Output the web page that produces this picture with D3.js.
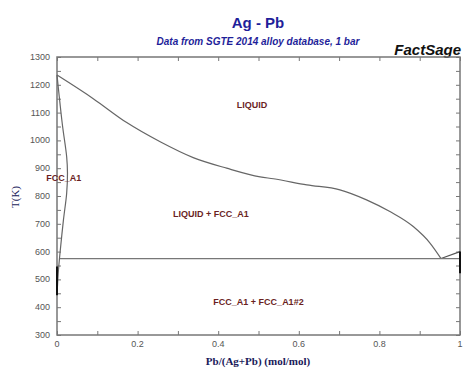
<!DOCTYPE html>
<html>
<head>
<meta charset="utf-8">
<script src="https://cdn.jsdelivr.net/npm/d3@7"></script>
<style>
  body { margin: 0; background: #fff; }
  svg { display: block; }
</style>
</head>
<body>
<div id="chart"></div>
<script>
// liquidus, Ag side -> eutectic
const liqX = [0, 0.09, 0.173, 0.256, 0.338, 0.421, 0.504, 0.537, 0.62, 0.702, 0.768, 0.826, 0.884, 0.926, 0.953];
const liqT = [1235, 1150, 1064, 995, 938, 900, 869, 862, 840, 822, 786, 744, 690, 630, 575];
// liquidus, Pb side
const liqPbX = [0.953, 1];
const liqPbT = [575, 600];
// solidus + solvus on the Ag side
const solX = [0, 0.0074, 0.014, 0.024, 0.026, 0.024, 0.016, 0.0074, 0.003, 0.001, 0];
const solT = [1235, 1133, 1049, 941, 882, 810, 714, 594, 522, 470, 440];
// eutectic line
const eutX = [0.0074, 1];
const eutT = [575, 575];
// solvus, thick near the axes
const pbSolvX = [1, 1];
const pbSolvT = [600, 522];
const agSolvX = [0, 0];
const agSolvT = [546, 444];

const xTicks = [0, 0.2, 0.4, 0.6, 0.8, 1];
const yTicks = [300, 400, 500, 600, 700, 800, 900, 1000, 1100, 1200, 1300];

const phaseLabels = [
  { text: 'LIQUID', x: 0.484, T: 1127 },
  { text: 'FCC_A1', x: 0.017, T: 866 },
  { text: 'LIQUID + FCC_A1', x: 0.382, T: 736 },
  { text: 'FCC_A1 + FCC_A1#2', x: 0.5, T: 417 }
];

const W = 474, H = 372;
const mLeft = 57, mRight = 460, mTop = 57, mBottom = 335;

const svg = d3.select('#chart').append('svg')
  .attr('width', W).attr('height', H);

const x = d3.scaleLinear().domain([0, 1]).range([mLeft, mRight]);
const y = d3.scaleLinear().domain([300, 1300]).range([mBottom, mTop]);

// titles
svg.append('text')
  .attr('x', 258).attr('y', 28)
  .attr('text-anchor', 'middle')
  .attr('font-family', 'Liberation Sans, Arial, sans-serif')
  .attr('font-weight', 'bold').attr('font-size', 15)
  .attr('fill', '#1f1f9a')
  .text('Ag - Pb');
svg.append('text')
  .attr('x', 258).attr('y', 45)
  .attr('text-anchor', 'middle')
  .attr('font-family', 'Liberation Sans, Arial, sans-serif')
  .attr('font-weight', 'bold').attr('font-style', 'italic').attr('font-size', 10)
  .attr('fill', '#1f1f9a')
  .text('Data from SGTE 2014 alloy database, 1 bar');
svg.append('text')
  .attr('x', 461).attr('y', 55)
  .attr('text-anchor', 'end')
  .attr('font-family', 'Liberation Sans, Arial, sans-serif')
  .attr('font-style', 'italic').attr('font-weight', 'bold').attr('font-size', 15)
  .attr('fill', '#111')
  .text('FactSage');

// axes: inward ticks on all four sides
const tickCol = '#777';
const axB = d3.axisBottom(x).tickValues(d3.range(0, 1.01, 0.1)).tickSize(-4).tickFormat('');
const axT = d3.axisTop(x).tickValues(d3.range(0, 1.01, 0.1)).tickSize(-4).tickFormat('');
const axL = d3.axisLeft(y).tickValues(d3.range(300, 1301, 50)).tickSize(-4).tickFormat('');
const axR = d3.axisRight(y).tickValues(d3.range(300, 1301, 50)).tickSize(-4).tickFormat('');

[[axB, `translate(0,${mBottom})`], [axT, `translate(0,${mTop})`],
 [axL, `translate(${mLeft},0)`], [axR, `translate(${mRight},0)`]].forEach(([ax, tr]) => {
  const g = svg.append('g').attr('transform', tr).call(ax);
  g.select('.domain').remove();
  g.selectAll('line').attr('stroke', tickCol);
});

svg.append('rect')
  .attr('x', mLeft).attr('y', mTop)
  .attr('width', mRight - mLeft).attr('height', mBottom - mTop)
  .attr('fill', 'none').attr('stroke', '#777').attr('stroke-width', 1.5);

// tick labels
svg.append('g').selectAll('text').data(xTicks).join('text')
  .attr('x', d => x(d)).attr('y', 347)
  .attr('text-anchor', 'middle')
  .attr('font-family', 'Liberation Sans, Arial, sans-serif').attr('font-size', 9)
  .attr('fill', '#555')
  .text(d => d3.format('~g')(d));
svg.append('g').selectAll('text').data(yTicks).join('text')
  .attr('x', 50).attr('y', d => y(d) + 3)
  .attr('text-anchor', 'end')
  .attr('font-family', 'Liberation Sans, Arial, sans-serif').attr('font-size', 9)
  .attr('fill', '#555')
  .text(d => d);

// axis titles
svg.append('text')
  .attr('x', 258).attr('y', 365)
  .attr('text-anchor', 'middle')
  .attr('font-family', 'Liberation Serif, Times New Roman, serif')
  .attr('font-weight', 'bold').attr('font-size', 11)
  .attr('fill', '#1a1a5a')
  .text('Pb/(Ag+Pb) (mol/mol)');
svg.append('text')
  .attr('transform', 'translate(19,197) rotate(-90)')
  .attr('text-anchor', 'middle')
  .attr('font-family', 'Liberation Serif, Times New Roman, serif')
  .attr('font-size', 11)
  .attr('fill', '#1a1a5a')
  .text('T(K)');

// phase boundaries
const zip = (a, b) => a.map((v, i) => [v, b[i]]);
const smooth = d3.line().x(d => x(d[0])).y(d => y(d[1])).curve(d3.curveMonotoneX);
const bendy = d3.line().x(d => x(d[0])).y(d => y(d[1])).curve(d3.curveCatmullRom);
const straight = d3.line().x(d => x(d[0])).y(d => y(d[1]));
const curves = [
  { d: zip(liqX, liqT), w: 1.2, c: '#666', gen: smooth },
  { d: zip(liqPbX, liqPbT), w: 1.2, c: '#555', gen: straight },
  { d: zip(solX, solT), w: 1.2, c: '#666', gen: bendy },
  { d: zip(eutX, eutT), w: 1.3, c: '#777', gen: straight },
  { d: zip(pbSolvX, pbSolvT), w: 2, c: '#111', gen: straight },
  { d: zip(agSolvX, agSolvT), w: 2, c: '#111', gen: straight }
];
svg.append('g').selectAll('path').data(curves).join('path')
  .attr('d', d => d.gen(d.d))
  .attr('fill', 'none')
  .attr('stroke', d => d.c)
  .attr('stroke-width', d => d.w);

// phase labels
svg.append('g').selectAll('text').data(phaseLabels).join('text')
  .attr('x', d => x(d.x)).attr('y', d => y(d.T) + 3)
  .attr('text-anchor', 'middle')
  .attr('font-family', 'Liberation Sans, Arial, sans-serif')
  .attr('font-weight', 'bold').attr('font-size', 9)
  .attr('fill', '#6b1f1f')
  .text(d => d.text);
</script>
</body>
</html>
